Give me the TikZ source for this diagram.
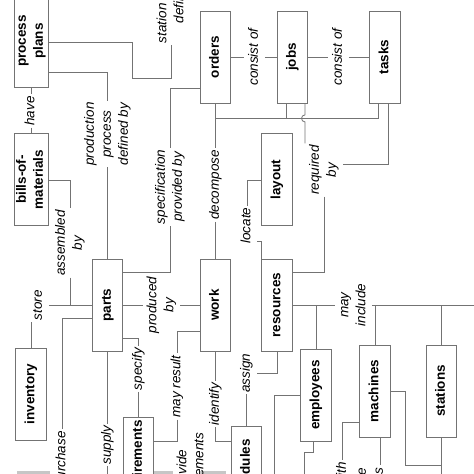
\documentclass[tikz,border=0pt]{standalone}
\usepackage{fontspec}
\setmainfont{Liberation Sans}
\usepackage{graphicx}
\newcommand{\vtext}[1]{\rotatebox{90}{\begin{tabular}{@{}c@{}}#1\end{tabular}}}

\begin{document}
\begin{tikzpicture}[x=1pt, y=-1pt, line width=0.8pt, draw=black!55]
\useasboundingbox (0,0) rectangle (474,474);
\clip (0,0) rectangle (474,474);
% patches of the next row
\fill[gray!45] (17,471) rectangle (50,480);
\fill[gray!45] (154,471) rectangle (173,480);
\fill[gray!45] (200,471) rectangle (226,480);
\tikzstyle{every node} = [draw=black!55, rectangle, minimum width=30.5, minimum height=92, inner sep=0pt, font=\fontsize{13.5}{17}\selectfont\bfseries]
\node (pplans) at (31,41) {\vtext{process\\plans}};
\node (bom) at (31,179.5) {\vtext{bills-of-\\materials}};
\node (inventory) at (31,394) {\vtext{inventory}};
\node (parts) at (107.5,305) {\vtext{parts}};
\node (requirements) at (138.5,463) {\vtext{requirements}};
\node (orders) at (215.5,57) {\vtext{orders}};
\node (work) at (215.5,305) {\vtext{work}};
\node (schedules) at (246.5,472) {\vtext{schedules}};
\node (layout) at (277,179.5) {\vtext{layout}};
\node (resources) at (277,305) {\vtext{resources}};
\node (jobs) at (292.5,57) {\vtext{jobs}};
\node (tasks) at (385,57) {\vtext{tasks}};
\node (employees) at (316,395) {\vtext{employees}};
\node (machines) at (375,391) {\vtext{machines}};
\node (stations) at (441.5,391) {\vtext{stations}};
\tikzstyle{every node} = [inner sep=1.5pt, font=\fontsize{13.5}{17}\selectfont\itshape]
\node (station) at (171.5,-8) {\vtext{station sequence\\defined by}};
\node (have) at (31,111) {\vtext{have}};
\node (production) at (107.5,134) {\vtext{production\\process\\defined by}};
\node (specification) at (170,187) {\vtext{specification\\provided by}};
\node (decompose) at (215.5,185) {\vtext{decompose}};
\node (consist1) at (254.5,57) {\vtext{consist of}};
\node (consist2) at (338.5,57) {\vtext{consist of}};
\node (required) at (324,170) {\vtext{required\\by}};
\node (locate) at (247,225.5) {\vtext{locate}};
\node (assembled) at (70,243) {\vtext{assembled\\by}};
\node (store) at (38.5,305) {\vtext{store}};
\node (produced) at (161.5,305) {\vtext{produced\\by}};
\node (purchase) at (62,459) {\vtext{purchase}};
\node (supply) at (107.5,445) {\vtext{supply}};
\node (specify) at (138.5,369) {\vtext{specify}};
\node (mayresult) at (177,386.5) {\vtext{may result}};
\node (identify) at (215.5,404) {\vtext{identify}};
\node (provide) at (191.5,472) {\vtext{provide\\requirements}};
\node (assign) at (246.5,373) {\vtext{assign}};
\node (mayinclude) at (353.5,305) {\vtext{may\\include}};
\node (workwith) at (342.5,490) {\vtext{work with}};
\node (require) at (371,489) {\vtext{require\\fixtures}};
\coordinate (bus) at (215.5,118);
\coordinate (supplyend) at (107.5,480);
\coordinate (includeend) at (480,305);
\coordinate (empleft) at (274,480);
\coordinate (empdown) at (304,480);
\coordinate (stationsend) at (441.5,480);
% process plans, bills, inventory
\draw ([yshift=-1pt]pplans.east) -| (132,78) -| (station.south);
\draw ([yshift=-31pt]pplans.east) -| (production.north);
\draw (production.south) -- (parts.north);
\draw (pplans.south) -- (have.north) (have.south) -- (bom.north);
\draw ([yshift=-0.5pt]bom.east) -| (assembled.north);
\draw (assembled.south) -- (assembled.south |- parts.west);
\draw (inventory.north) -- (inventory.north |- store.south);
\draw (store.east) -- (parts.west);
% parts
\draw ([yshift=-13pt]parts.west) -| (purchase.north);
\draw (parts.south) -- (supply.north) (supply.south) -- (supplyend);
\draw ([yshift=-33pt]parts.east) -| (specify.north);
\draw (specify.south) -- (requirements.north);
\draw (parts.east) -- (produced.west) (produced.east) -- (work.west);
\draw ([yshift=33pt]parts.east) -| (specification.south);
% orders, jobs, tasks
\draw ([yshift=-31pt]orders.west) -| (specification.north);
\draw (orders.south) -- (decompose.north) (decompose.south) -- (work.north);
\draw ([xshift=-7pt]tasks.south) |- (bus);
\draw ([xshift=-6.5pt]jobs.south) -- ([xshift=-6.5pt]jobs.south |- bus);
\draw (orders.east) -- (consist1.west) (consist1.east) -- (jobs.west);
\draw (jobs.east) -- (consist2.west) (consist2.east) -- (tasks.west);
\draw ([xshift=12.5pt]jobs.south) -- ++(0,11.5) arc[start angle=270, end angle=90, radius=3.5]
	-- ([xshift=12.5pt]jobs.south |- required.north);
\draw ([xshift=3pt]tasks.south) |- ([yshift=6pt]required.east);
\draw (required.south) |- ([yshift=33pt]resources.east);
\draw ([yshift=-0.5pt]layout.west) -| (locate.north);
\draw ([yshift=-15.5pt]locate.east) -| (resources.north west);
% work
\draw ([yshift=-26pt]work.west) -| (mayresult.north);
\draw (mayresult.south) |- ([yshift=22pt]requirements.east);
\draw (work.south) -- (identify.north);
\draw (identify.south) |- ([yshift=31pt]schedules.west);
% resources
\draw (resources.south) |- (assign.east);
\draw (assign.south) -- (schedules.north);
\draw (resources.east) -- (mayinclude.west) (mayinclude.east) -- (includeend);
\draw (employees.north) -- (employees.north |- resources.east);
\draw (machines.north) -- (machines.north |- mayinclude.east);
\draw (stations.north) -- (stations.north |- mayinclude.east);
\draw (employees.west) -| (empleft);
\draw ([xshift=-3pt]employees.south) -- ++(0,11) -| (empdown);
\draw ([yshift=-31pt]machines.west) -| (workwith.north);
\draw ([xshift=5pt]machines.south) -- ([xshift=5pt]machines.south |- require.north);
\draw (machines.east) -| (405,465) -| (stations.south);
\draw (stations.south) -- (stationsend);
\end{tikzpicture}
\end{document}
